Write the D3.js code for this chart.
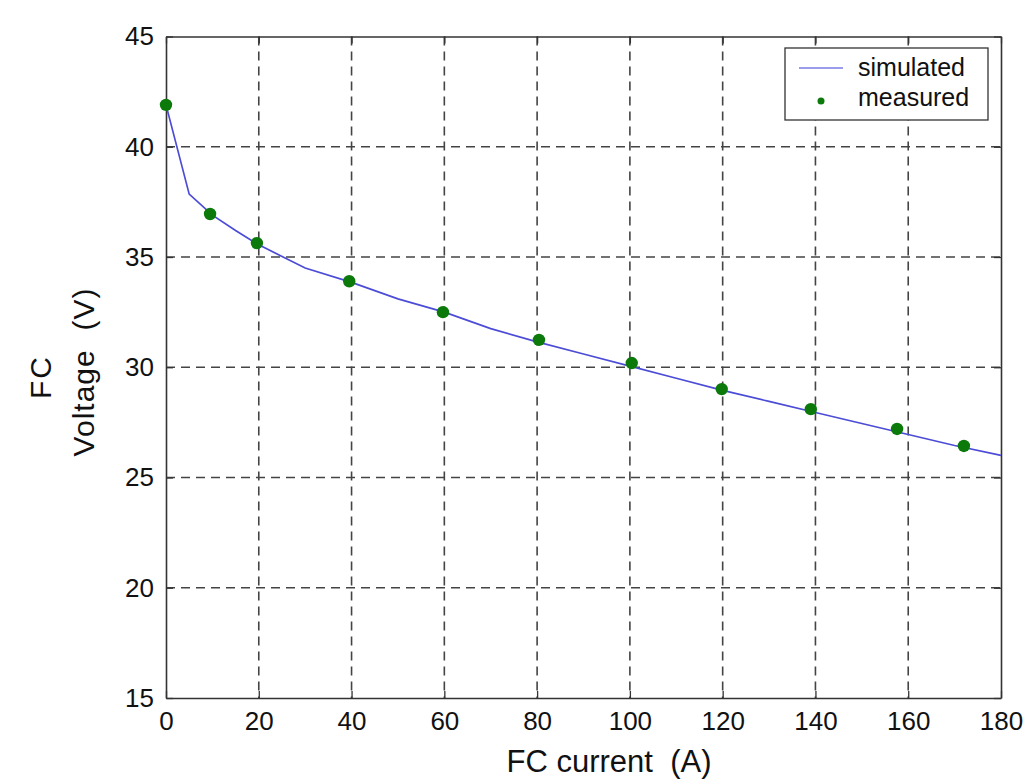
<!DOCTYPE html>
<html>
<head>
<meta charset="utf-8">
<script src="https://cdn.jsdelivr.net/npm/d3@7/dist/d3.min.js"></script>
<style>
  html, body { margin: 0; padding: 0; background: #fff; }
  svg { display: block; font-family: "Liberation Sans", Arial, Helvetica, sans-serif; }
</style>
</head>
<body>
<svg id="chart" width="1036" height="781"></svg>
<script>
// ---- data ----
const simCurrent = [0, 5, 10, 15, 20, 30, 40, 50, 60, 70, 80, 90, 100, 110, 120, 130, 140, 150, 160, 170, 180];
const simVoltage = [41.9, 37.85, 36.9, 36.2, 35.55, 34.5, 33.85, 33.1, 32.5, 31.75, 31.15, 30.6, 30.05, 29.5, 28.95, 28.45, 27.95, 27.45, 26.95, 26.45, 26.0];
const measCurrent = [0, 9.5, 19.6, 39.5, 59.7, 80.4, 100.4, 119.8, 139, 157.6, 172];
const measVoltage = [41.9, 36.95, 35.63, 33.9, 32.5, 31.24, 30.19, 29.01, 28.1, 27.2, 26.43];
const xTicks = [0, 20, 40, 60, 80, 100, 120, 140, 160, 180];
const yTicks = [15, 20, 25, 30, 35, 40, 45];
const legendLabels = ["simulated", "measured"];

// ---- layout ----
const svg = d3.select("#chart");
const m = { left: 166, right: 1001, top: 36.5, bottom: 698 };
const x = d3.scaleLinear().domain([0, 180]).range([m.left, m.right]);
const y = d3.scaleLinear().domain([15, 45]).range([m.bottom, m.top]);
const axisColor = "#333";
const gridColor = "#444";

// grid
const g = svg.append("g");
g.selectAll(".vg").data(xTicks.slice(1, -1)).enter().append("line")
  .attr("x1", d => x(d)).attr("x2", d => x(d))
  .attr("y1", m.top).attr("y2", m.bottom)
  .attr("stroke", gridColor).attr("stroke-width", 1.6).attr("stroke-dasharray", "9,6");
g.selectAll(".hg").data(yTicks.slice(1, -1)).enter().append("line")
  .attr("y1", d => y(d)).attr("y2", d => y(d))
  .attr("x1", m.left).attr("x2", m.right)
  .attr("stroke", gridColor).attr("stroke-width", 1.6).attr("stroke-dasharray", "9,6");

// axes (inward ticks, MATLAB style)
const tickLen = 7;
const xAxisB = d3.axisBottom(x).tickValues(xTicks).tickSizeInner(-tickLen).tickSizeOuter(0).tickPadding(14);
const yAxisL = d3.axisLeft(y).tickValues(yTicks).tickSizeInner(-tickLen).tickSizeOuter(0).tickPadding(12);
const xAxisT = d3.axisTop(x).tickValues(xTicks).tickSizeInner(-tickLen).tickSizeOuter(0).tickFormat("");
const yAxisR = d3.axisRight(y).tickValues(yTicks).tickSizeInner(-tickLen).tickSizeOuter(0).tickFormat("");

function styleAxis(sel) {
  sel.selectAll("path").attr("stroke", axisColor).attr("stroke-width", 1.6);
  sel.selectAll("line").attr("stroke", axisColor).attr("stroke-width", 1.3);
  sel.selectAll("text").attr("fill", "#111").style("font-size", "26px")
    .style("font-family", "'Liberation Sans', Arial, sans-serif");
}
svg.append("g").attr("transform", `translate(0,${m.bottom})`).call(xAxisB).call(styleAxis);
svg.append("g").attr("transform", `translate(${m.left},0)`).call(yAxisL).call(styleAxis);
svg.append("g").attr("transform", `translate(0,${m.top})`).call(xAxisT).call(styleAxis);
svg.append("g").attr("transform", `translate(${m.right},0)`).call(yAxisR).call(styleAxis);

// simulated line
const simData = simCurrent.map((c, i) => [c, simVoltage[i]]);
svg.append("path").datum(simData)
  .attr("fill", "none").attr("stroke", "#4c4cd6").attr("stroke-width", 1.7)
  .attr("d", d3.line().x(d => x(d[0])).y(d => y(d[1])));

// measured points
const measData = measCurrent.map((c, i) => [c, measVoltage[i]]);
svg.selectAll(".pt").data(measData).enter().append("circle")
  .attr("cx", d => x(d[0])).attr("cy", d => y(d[1])).attr("r", 6.2)
  .attr("fill", "#0b7a0b");

// legend
const lg = svg.append("g");
lg.append("rect").attr("x", 785).attr("y", 48).attr("width", 203).attr("height", 72)
  .attr("fill", "#fff").attr("stroke", axisColor).attr("stroke-width", 1.3);
lg.append("line").attr("x1", 799).attr("x2", 843).attr("y1", 68).attr("y2", 68)
  .attr("stroke", "#7b7be6").attr("stroke-width", 1.6);
lg.append("circle").attr("cx", 821).attr("cy", 101).attr("r", 3.5).attr("fill", "#0b7a0b");
lg.selectAll("text").data(legendLabels).enter().append("text")
  .attr("x", 858).attr("y", (d, i) => 76 + i * 30)
  .style("font-size", "25px").attr("fill", "#111").text(d => d);

// axis titles
svg.append("text").attr("x", 609).attr("y", 772).attr("text-anchor", "middle")
  .style("font-size", "31px").attr("fill", "#111").style("white-space", "pre").text("FC current  (A)");
svg.append("text").attr("transform", "translate(51,377) rotate(-90)").attr("text-anchor", "middle")
  .style("font-size", "30px").attr("fill", "#111").style("letter-spacing", "2px").text("FC");
svg.append("text").attr("transform", "translate(94,372) rotate(-90)").attr("text-anchor", "middle")
  .style("font-size", "30px").attr("fill", "#111").style("letter-spacing", "1px")
  .style("white-space", "pre").text("Voltage  (V)");
</script>
</body>
</html>
